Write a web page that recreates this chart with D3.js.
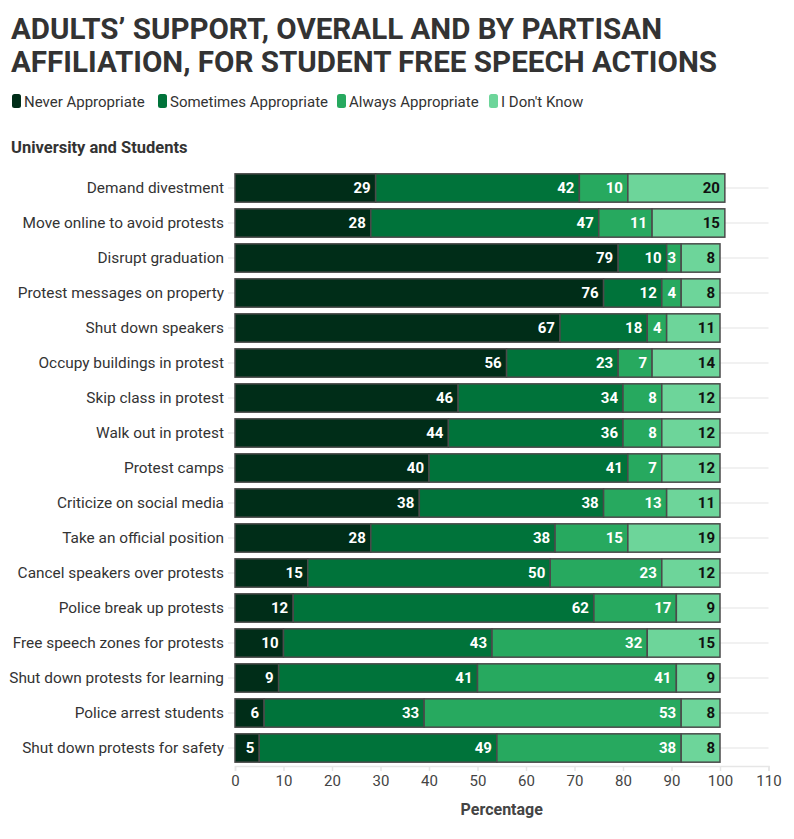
<!DOCTYPE html>
<html>
<head>
<meta charset="utf-8">
<script src="https://cdn.jsdelivr.net/npm/d3@7"></script>
<style>
  body { margin: 0; background: #fff; }
  svg text { font-family: Roboto, "Open Sans", sans-serif; }
</style>
</head>
<body>
<div id="chart"></div>
<script>
// categories (top to bottom)
var categories = [
  "Demand divestment", "Move online to avoid protests", "Disrupt graduation",
  "Protest messages on property", "Shut down speakers", "Occupy buildings in protest",
  "Skip class in protest", "Walk out in protest", "Protest camps",
  "Criticize on social media", "Take an official position", "Cancel speakers over protests",
  "Police break up protests", "Free speech zones for protests", "Shut down protests for learning",
  "Police arrest students", "Shut down protests for safety"
];
var seriesNames = ["Never Appropriate", "Sometimes Appropriate", "Always Appropriate", "I Don't Know"];
var never     = [29, 28, 79, 76, 67, 56, 46, 44, 40, 38, 28, 15, 12, 10, 9, 6, 5];
var sometimes = [42, 47, 10, 12, 18, 23, 34, 36, 41, 38, 38, 50, 62, 43, 41, 33, 49];
var always    = [10, 11, 3, 4, 4, 7, 8, 8, 7, 13, 15, 23, 17, 32, 41, 53, 38];
var dontKnow  = [20, 15, 8, 8, 11, 14, 12, 12, 12, 11, 19, 12, 9, 15, 9, 8, 8];
var xTicks = [0, 10, 20, 30, 40, 50, 60, 70, 80, 90, 100, 110];

var colors = ["#002d18", "#00733a", "#27a95f", "#6dd59a"];
var labelColors = ["#fff", "#fff", "#fff", "#111"];

var width = 794, height = 839;

var svg = d3.select("#chart").append("svg")
  .attr("width", width).attr("height", height);

// title, two lines
var titleLines = [
  { t: "ADULTS\u2019 SUPPORT, OVERALL AND BY PARTISAN", y: 39, w: 651 },
  { t: "AFFILIATION, FOR STUDENT FREE SPEECH ACTIONS", y: 72, w: 706 }
];
svg.selectAll(".title").data(titleLines).enter().append("text")
  .attr("class", "title")
  .attr("x", 11).attr("y", function (d) { return d.y; })
  .attr("textLength", function (d) { return d.w; })
  .attr("lengthAdjust", "spacingAndGlyphs")
  .style("font-size", "30px").style("font-weight", 700).style("fill", "#333")
  .text(function (d) { return d.t; });

// legend
var legendX = [12, 158, 337, 489];
var lg = svg.selectAll(".lg").data(seriesNames).enter().append("g")
  .attr("class", "lg")
  .attr("transform", function (d, i) { return "translate(" + legendX[i] + ",94)"; });
lg.append("rect").attr("width", 9).attr("height", 14).attr("rx", 2.5)
  .attr("fill", function (d, i) { return colors[i]; });
lg.append("text").attr("x", 12).attr("y", 12.5)
  .style("font-size", "15px").style("fill", "#333")
  .text(function (d) { return d; });

svg.append("text").attr("x", 11).attr("y", 153)
  .style("font-size", "16.5px").style("font-weight", 700).style("fill", "#333")
  .text("University and Students");

// scales
var xScale = d3.scaleLinear().domain([0, 110]).range([235, 768.5]);
var yScale = d3.scaleBand().domain(categories).range([170.5, 765.5]).paddingInner(0.19).paddingOuter(0.095);

// horizontal gridlines per row
svg.append("g").selectAll("line").data(categories).enter().append("line")
  .attr("x1", 228).attr("x2", xScale(110))
  .attr("y1", function (d) { return yScale(d) + yScale.bandwidth() / 2; })
  .attr("y2", function (d) { return yScale(d) + yScale.bandwidth() / 2; })
  .attr("stroke", "#ececec").attr("stroke-width", 1.5);

// y labels
svg.append("g").selectAll("text").data(categories).enter().append("text")
  .attr("x", 224)
  .attr("y", function (d) { return yScale(d) + yScale.bandwidth() / 2; })
  .attr("dy", "0.35em").attr("text-anchor", "end")
  .style("font-size", "15.4px").style("fill", "#333")
  .text(function (d) { return d; });

// stacked data
var rows = categories.map(function (c, i) {
  return { cat: c, s0: never[i], s1: sometimes[i], s2: always[i], s3: dontKnow[i] };
});
var stack = d3.stack().keys(["s0", "s1", "s2", "s3"])(rows);

var layer = svg.append("g").selectAll("g").data(stack).enter().append("g");
layer.selectAll("rect").data(function (d) { return d; }).enter().append("rect")
  .attr("x", function (d) { return xScale(d[0]); })
  .attr("y", function (d) { return yScale(d.data.cat); })
  .attr("width", function (d) { return xScale(d[1]) - xScale(d[0]); })
  .attr("height", yScale.bandwidth())
  .attr("fill", function () { return colors[d3.select(this.parentNode).datum().index]; })
  .attr("stroke", "#4a4a4a").attr("stroke-width", 1.5);

layer.each(function (s) {
  d3.select(this).selectAll("text").data(s).enter().append("text")
    .attr("x", function (d) { return xScale(d[1]) - 5; })
    .attr("y", function (d) { return yScale(d.data.cat) + yScale.bandwidth() / 2; })
    .attr("dy", "0.36em").attr("text-anchor", "end")
    .style("font-size", "15px").style("font-weight", 700)
    .style("fill", labelColors[s.index])
    .text(function (d) { return d[1] - d[0]; });
});

// x axis
var xAxis = d3.axisBottom(xScale).tickValues(xTicks).tickSize(5).tickPadding(4);
var xNode = svg.append("g").attr("transform", "translate(0,766)").call(xAxis);
xNode.select(".domain").attr("stroke", "#e6e6e6").attr("stroke-width", 1.5);
xNode.selectAll(".tick line").attr("stroke", "#e6e6e6").attr("stroke-width", 1.5);
xNode.selectAll(".tick text").style("font-size", "15px").style("fill", "#444")
  .style("font-family", "Roboto, sans-serif");

svg.append("text").attr("x", xScale(55)).attr("y", 815).attr("text-anchor", "middle")
  .style("font-size", "16px").style("font-weight", 700).style("fill", "#444")
  .text("Percentage");
</script>
</body>
</html>
